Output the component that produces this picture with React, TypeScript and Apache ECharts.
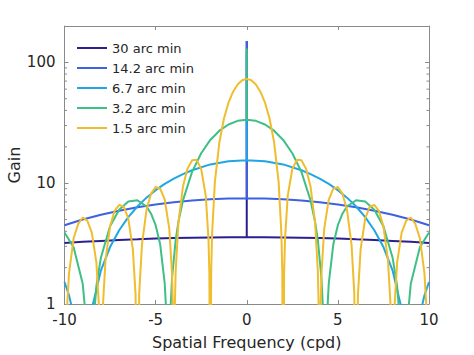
import React, { useEffect, useRef } from "react";
import * as echarts from "echarts";

const FONT = "'DejaVu Sans', 'Liberation Sans', sans-serif";
const AXIS_COLOR = "#8a8a8a";
const TEXT_COLOR = "#262626";

const seriesNames = ["30 arc min", "14.2 arc min", "6.7 arc min", "3.2 arc min", "1.5 arc min"];
const seriesColors = ["#2a1f8f", "#3e60e2", "#20a6e2", "#3fbf86", "#efbd2e"];

const xTicks = [-10, -5, 0, 5, 10];
const yMajorTicks = [1, 10, 100];
const yMinorTicks = [2, 3, 4, 5, 6, 7, 8, 9, 20, 30, 40, 50, 60, 70, 80, 90];

// 30 arc min
const freq30 = [-10, -9, -8, -7, -6, -5, -4, -3, -2, -1, 0, 0, 0, 1, 2, 3, 4, 5, 6, 7, 8, 9, 10];
const gain30 = [3.2, 3.27, 3.33, 3.39, 3.43, 3.48, 3.51, 3.54, 3.56, 3.57, 3.57, 150, 3.57, 3.57, 3.56, 3.54, 3.51, 3.48, 3.43, 3.39, 3.33, 3.27, 3.2];

// 14.2 arc min
const freq142 = [-10, -9, -8, -7, -6, -5, -4, -3, -2, -1, 0, 0, 0, 1, 2, 3, 4, 5, 6, 7, 8, 9, 10];
const gain142 = [4.49, 5.0, 5.48, 5.92, 6.32, 6.67, 6.96, 7.19, 7.36, 7.47, 7.5, 150, 7.5, 7.47, 7.36, 7.19, 6.96, 6.67, 6.32, 5.92, 5.48, 5.0, 4.49];

// 6.7 arc min
const freq67 = [
  -10, -9.75, -9.5, -9.25, -9, -8.75, -8.5, -8, -7.5, -7, -6.5, -6, -5.5, -5, -4.5, -4, -3.5, -3, -2, -1,
  0, 0, 0,
  1, 2, 3, 3.5, 4, 4.5, 5, 5.5, 6, 6.5, 7, 7.5, 8, 8.5, 8.75, 9, 9.25, 9.5, 9.75, 10,
];
const gain67 = [
  1.52, 1.18, 0.81, 0.42, 0.05, 0.44, 0.91, 1.9, 2.96, 4.08, 5.23, 6.41, 7.59, 8.75, 9.87, 10.9, 11.9, 12.8, 14.3, 15.2,
  15.5, 120, 15.5,
  15.2, 14.3, 12.8, 11.9, 10.9, 9.87, 8.75, 7.59, 6.41, 5.23, 4.08, 2.96, 1.9, 0.91, 0.44, 0.05, 0.42, 0.81, 1.18, 1.52,
];

// 3.2 arc min
const freq32 = [
  -10, -9.5, -9, -8.75, -8.6, -8.45, -8.25, -8, -7.5, -7, -6.5, -6, -5.5, -5.25, -5, -4.75, -4.5, -4.4, -4.3, -4.2,
  -4.1, -3.9, -3.75, -3.5, -3, -2.5, -2, -1.5, -1, -0.5,
  0, 0, 0,
  0.5, 1, 1.5, 2, 2.5, 3, 3.5, 3.75, 3.9, 4.1, 4.2, 4.3, 4.4, 4.5, 4.75, 5, 5.25, 5.5, 6, 6.5, 7, 7.5, 8, 8.25,
  8.45, 8.6, 8.75, 9, 9.5, 10,
];
const gain32 = [
  3.91, 2.95, 1.47, 0.57, 0.05, 0.59, 1.41, 2.43, 4.4, 6.03, 7.05, 7.23, 6.41, 5.59, 4.49, 3.12, 1.48, 0.76, 0.05, 0.8,
  1.63, 3.4, 4.78, 7.2, 12.4, 17.7, 22.8, 27.2, 30.6, 32.8,
  33.5, 130, 33.5,
  32.8, 30.6, 27.2, 22.8, 17.7, 12.4, 7.2, 4.78, 3.4, 1.63, 0.8, 0.05, 0.76, 1.48, 3.12, 4.49, 5.59, 6.41, 7.23, 7.05, 6.03, 4.4, 2.43, 1.41,
  0.59, 0.05, 0.57, 1.47, 2.95, 3.91,
];

// 1.5 arc min
const freq15 = [
  -10, -9.9, -9.75, -9.5, -9.25, -9, -8.75, -8.5, -8.25, -8.1, -8, -7.9, -7.75, -7.5, -7.25, -7, -6.75, -6.5, -6.25, -6.1,
  -6, -5.9, -5.75, -5.5, -5.25, -5, -4.75, -4.5, -4.25, -4.1, -4.05, -4, -3.95, -3.9, -3.75, -3.5, -3.25, -3, -2.75, -2.5,
  -2.25, -2.1, -2.05, -2, -1.95, -1.9, -1.75, -1.5, -1.25, -1, -0.75, -0.5, -0.25,
  0,
  0.25, 0.5, 0.75, 1, 1.25, 1.5, 1.75, 1.9, 1.95, 2, 2.05, 2.1, 2.25, 2.5, 2.75, 3, 3.25, 3.5, 3.75, 3.9,
  3.95, 4, 4.05, 4.1, 4.25, 4.5, 4.75, 5, 5.25, 5.5, 5.75, 5.9, 6, 6.1, 6.25, 6.5, 6.75, 7, 7.25, 7.5,
  7.75, 7.9, 8, 8.1, 8.25, 8.5, 8.75, 9, 9.25, 9.5, 9.75, 9.9, 10,
];
const gain15 = [
  0.05, 0.73, 1.8, 3.5, 4.6, 5.2, 4.9, 3.9, 2.2, 0.9, 0.05, 0.92, 2.3, 4.4, 5.9, 6.6, 6.4, 5.1, 2.85, 1.19,
  0.05, 1.23, 3.1, 6.0, 8.2, 9.3, 9.0, 7.3, 4.2, 1.77, 0.9, 0.05, 0.92, 1.86, 4.7, 9.4, 13.2, 15.5, 15.6, 13.1,
  7.9, 3.46, 1.78, 0.05, 1.87, 3.83, 10.2, 21.9, 34.3, 46.5, 57.2, 65.7, 71.1,
  73,
  71.1, 65.7, 57.2, 46.5, 34.3, 21.9, 10.2, 3.83, 1.87, 0.05, 1.78, 3.46, 7.9, 13.1, 15.6, 15.5, 13.2, 9.4, 4.7, 1.86,
  0.92, 0.05, 0.9, 1.77, 4.2, 7.3, 9.0, 9.3, 8.2, 6.0, 3.1, 1.23, 0.05, 1.19, 2.85, 5.1, 6.4, 6.6, 5.9, 4.4,
  2.3, 0.92, 0.05, 0.9, 2.2, 3.9, 4.9, 5.2, 4.6, 3.5, 1.8, 0.73, 0.05,
];

const seriesFreqs = [freq30, freq142, freq67, freq32, freq15];
const seriesGains = [gain30, gain142, gain67, gain32, gain15];

export default function App() {
  const ref = useRef<HTMLDivElement>(null);

  useEffect(() => {
    if (!ref.current) return;
    const chart = echarts.init(ref.current, null, { renderer: "svg" });

    const axisCommon = {
      axisLine: { show: true, onZero: false, lineStyle: { color: AXIS_COLOR, width: 1 } },
      splitLine: { show: false },
    };

    chart.setOption({
      animation: false,
      backgroundColor: "#ffffff",
      grid: {
        left: 64.5,
        right: 45,
        top: 26,
        bottom: 51,
        containLabel: false,
        outerBoundsMode: "none",
      },
      legend: {
        orient: "vertical",
        left: 77,
        top: 38,
        padding: 0,
        itemWidth: 30,
        itemHeight: 2,
        itemGap: 0,
        icon: "rect",
        data: seriesNames,
        textStyle: { fontSize: 13, fontFamily: FONT, color: TEXT_COLOR, lineHeight: 20 },
      },
      xAxis: [
        {
          type: "value",
          min: xTicks[0],
          max: xTicks[xTicks.length - 1],
          interval: 5,
          position: "bottom",
          ...axisCommon,
          axisTick: { show: true, inside: true, length: 4, lineStyle: { color: AXIS_COLOR } },
          axisLabel: { fontSize: 15, fontFamily: FONT, color: TEXT_COLOR, margin: 8 },
          name: "Spatial Frequency (cpd)",
          nameLocation: "middle",
          nameGap: 30,
          nameTextStyle: { fontSize: 16, fontFamily: FONT, color: TEXT_COLOR },
        },
        {
          type: "value",
          min: xTicks[0],
          max: xTicks[xTicks.length - 1],
          interval: 5,
          position: "top",
          ...axisCommon,
          axisTick: { show: true, inside: true, length: 4, lineStyle: { color: AXIS_COLOR } },
          axisLabel: { show: false },
        },
      ],
      yAxis: [
        {
          type: "log",
          logBase: 10,
          min: 1,
          max: 200,
          position: "left",
          ...axisCommon,
          axisTick: { show: true, inside: true, length: 4, lineStyle: { color: AXIS_COLOR } },
          axisLabel: {
            fontSize: 15,
            fontFamily: FONT,
            color: TEXT_COLOR,
            margin: 9,
            showMaxLabel: false,
            formatter: (v: number) => {
              const r = Math.round(v);
              return yMajorTicks.includes(r) && Math.abs(v - r) < 1e-6 ? String(r) : "";
            },
          },
          name: "Gain",
          nameLocation: "middle",
          nameGap: 42,
          nameMoveOverlap: false,
          nameTextStyle: { fontSize: 16, fontFamily: FONT, color: TEXT_COLOR },
        },
        {
          type: "log",
          logBase: 10,
          min: 1,
          max: 200,
          position: "right",
          ...axisCommon,
          axisTick: { show: true, inside: true, length: 4, lineStyle: { color: AXIS_COLOR } },
          axisLabel: { show: false },
        },
      ],
      series: seriesNames.map((name, i) => ({
        name,
        type: "line",
        xAxisIndex: 0,
        yAxisIndex: 0,
        data: seriesFreqs[i].map((f, j) => [f, seriesGains[i][j]]),
        showSymbol: false,
        symbol: "none",
        clip: true,
        color: seriesColors[i],
        lineStyle: { color: seriesColors[i], width: 2 },
        itemStyle: { color: seriesColors[i] },
        z: 2 + i,
      })),
    });

    const xl = chart.convertToPixel({ xAxisIndex: 0 }, xTicks[0]) as number;
    const xr = chart.convertToPixel({ xAxisIndex: 0 }, xTicks[xTicks.length - 1]) as number;
    const graphics: any[] = [];
    yMinorTicks.forEach((v) => {
      const y = chart.convertToPixel({ yAxisIndex: 0 }, v) as number;
      graphics.push({
        type: "line",
        shape: { x1: xl, y1: y, x2: xl + 2.5, y2: y },
        style: { stroke: AXIS_COLOR, lineWidth: 1 },
        silent: true,
        z: 10,
      });
      graphics.push({
        type: "line",
        shape: { x1: xr - 2.5, y1: y, x2: xr, y2: y },
        style: { stroke: AXIS_COLOR, lineWidth: 1 },
        silent: true,
        z: 10,
      });
    });
    chart.setOption({ graphic: graphics });

    return () => chart.dispose();
  }, []);

  return (
    <div
      ref={ref}
      style={{ position: "fixed", left: 0, top: 0, width: 474, height: 355, background: "#fff" }}
    />
  );
}
